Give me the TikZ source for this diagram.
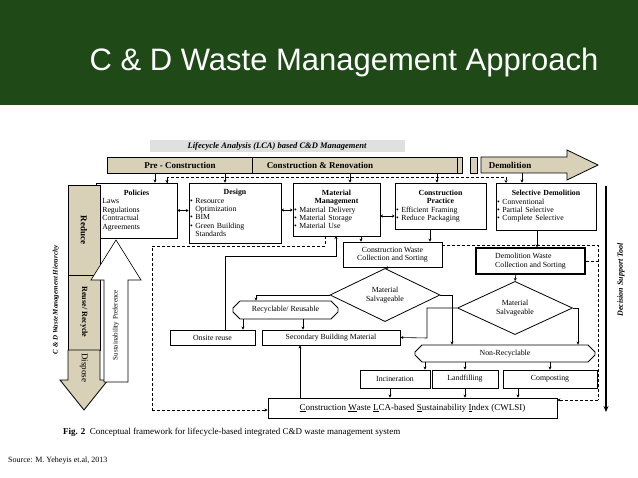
\documentclass[tikz,border=0pt]{standalone}
\usepackage{fontspec}
\setmainfont{Liberation Serif}
\newfontfamily\sansf{Liberation Sans}
\usetikzlibrary{shapes.geometric,shapes.misc,arrows.meta}
\definecolor{hdr}{HTML}{1F4A17}
\definecolor{tan}{HTML}{D8D1B8}
\newcommand{\hd}[1]{\makebox[\linewidth][c]{\textbf{#1}}\\}
\begin{document}
\begin{tikzpicture}[x=1pt,y=-1pt,
  every node/.style={font=\fontsize{7.8}{8.4}\selectfont,inner sep=1pt},
  box/.style={draw,thick,fill=white,align=center},
  bl/.style={box,align=left},
  ch/.style={chamfered rectangle,chamfered rectangle xsep=4pt,draw,thick,fill=white},
  dia/.style={diamond,draw,thick,fill=white,align=center,inner sep=0pt},
  ar/.style={-{Stealth[length=3pt,width=3pt]},semithick},
  da/.style={semithick,densely dashed},
  dar/.style={da,-{Stealth[length=3pt,width=3pt]}},
  lr/.style={{Stealth[length=2.5pt,width=3pt]}-{Stealth[length=2.5pt,width=3pt]},semithick}]
\useasboundingbox (0,0) rectangle (638,478);
\fill[hdr] (0,0) rectangle (638,105);
\node[font=\sansf\fontsize{31}{34}\selectfont,text=white] (title) at (344,62) {C \& D Waste Management Approach};
% LCA header
\node[fill=black!12,minimum width=255,minimum height=12,font=\bfseries\itshape\fontsize{8.5}{9}\selectfont] (lca) at (277,146) {Lifecycle Analysis (LCA) based C\&D Management};
% phase bar
\draw[fill=tan,thick] (107,157) rectangle (252,173);
\draw[fill=tan,thick] (252,157) rectangle (457,173);
\draw[fill=tan,thick] (457,157) rectangle (462,173);
\draw[fill=tan,thick] (470,157) rectangle (477,173);
\draw[fill=tan,thick] (481,157) -- (567,157) -- (567,150) -- (598,165) -- (567,180) -- (567,173) -- (481,173) -- cycle;
\node[font=\bfseries\fontsize{9}{10}\selectfont] (pre) at (180,165) {Pre - Construction};
\node[font=\bfseries\fontsize{9}{10}\selectfont] (cr) at (320,165) {Construction \& Renovation};
\node[font=\bfseries\fontsize{9}{10}\selectfont] (dem) at (510,165) {Demolition};
% boxes
\node[bl,text width=79,minimum height=55] (pol) at (136.5,210.5) {\hd{Policies}\textbullet\ Laws\\\textbullet\ Regulations\\\textbullet\ Contractual\\\phantom{\textbullet\ }Agreements};
\node[bl,text width=90,minimum height=60] (des) at (235,213) {\hd{Design}\textbullet\ Resource\\\phantom{\textbullet\ }Optimization\\\textbullet\ BIM\\\textbullet\ Green Building\\\phantom{\textbullet\ }Standards};
\node[bl,text width=85,minimum height=53] (mat) at (336.5,209.5) {\hd{Material}\hd{Management}\textbullet\ Material Delivery\\\textbullet\ Material Storage\\\textbullet\ Material Use};
\node[bl,text width=89,minimum height=46] (cp) at (440.5,206) {\hd{Construction}\hd{Practice}\textbullet\ Efficient Framing\\\textbullet\ Reduce Packaging};
\node[bl,text width=98,minimum height=47] (sd) at (546,206.5) {\hd{Selective Demolition}\textbullet\ Conventional\\\textbullet\ Partial Selective\\\textbullet\ Complete Selective};
\node[box,minimum width=99,minimum height=25] (cw) at (392.5,254.5) {Construction Waste\\Collection and Sorting};
\node[box,very thick,align=left,minimum width=109,minimum height=26] (dw) at (530.5,261) {Demolition Waste\\Collection and Sorting};
\node[dia,minimum width=110,minimum height=38] (d1) at (385,295) {Material\\Salvageable};
\node[dia,minimum width=115,minimum height=40] (d2) at (515,308) {Material\\Salvageable};
\node[ch,minimum width=105,minimum height=18] (rec) at (285.5,310) {Recyclable/ Reusable};
\node[box,minimum width=85,minimum height=15] (on) at (212.5,337.5) {Onsite reuse};
\node[box,minimum width=138,minimum height=15] (sbm) at (331,337.5) {Secondary Building Material};
\node[ch,minimum width=180,minimum height=17] (nr) at (505,353.5) {Non-Recyclable};
\node[box,minimum width=70,minimum height=18] (inc) at (395,379) {Incineration};
\node[box,minimum width=66,minimum height=18] (lan) at (465,379) {Landfilling};
\node[box,minimum width=94,minimum height=18] (com) at (550,379) {Composting};
\node[box,minimum width=289,minimum height=20,font=\fontsize{9}{10}\selectfont] (cwl) at (412.5,408) {\underline{C}onstruction \underline{W}aste \underline{L}CA-based \underline{S}ustainability \underline{I}ndex (CWLSI)};
% bar to boxes
\draw[ar] (155,173) -- (155,0 |- pol.north);
\draw[ar] (225,173) -- (225,0 |- des.north);
\draw[ar] (350,173) -- (350,0 |- mat.north);
\draw[ar] (437,173) -- (437,0 |- cp.north);
\draw[ar] (522,173) -- (522,0 |- sd.north);
\draw[da] (167,183) -- (167,177) -- (506,177);
\draw[dar] (506,177) -- (506,183);
\draw[dar] (167,178) -- (167,183);
% horizontal links
\draw[lr] (pol.east) -- (des.west |- pol.east);
\draw[lr] (des.east |- 210,210) -- (mat.west |- 210,210);
\draw[lr] (mat.east |- 216,216) -- (cp.west |- 216,216);
% down flows
\draw[ar] (361,236) -- (361,0 |- cw.north);
\draw[ar] (430,229) -- (430,0 |- cw.north);
\draw[ar] (537,230) -- (537,0 |- dw.north);
\draw[ar] (cw.south) -- (d1.north);
\draw[ar] (516,274) -- (d2.north);
\draw[ar] (d1.west) -- (256,295) -- (256,0 |- rec.north);
\draw[ar] (d1.east) -- (452,295) -- (452,0 |- nr.north);
\draw[ar] (d2.west) -- (427,308) -- (427,338) -- (sbm.east);
\draw[ar] (d2.east) -- (578,308) -- (578,0 |- nr.north);
\draw[ar] (243,319) -- (243,0 |- on.north);
\draw[ar] (303,319) -- (303,0 |- sbm.north);
\draw[ar] (225,330) -- (225,256) -- (336,256) -- (336,236);
\draw[ar] (300,0 |- cwl.north) -- (300,0 |- sbm.south);
\draw[ar] (425,362) -- (425,0 |- inc.north);
\draw[ar] (465,362) -- (465,0 |- lan.north);
\draw[ar] (550,362) -- (550,0 |- com.north);
\draw[ar] (390,388) -- (390,0 |- cwl.north);
\draw[ar] (465,388) -- (465,0 |- cwl.north);
\draw[ar] (518,388) -- (518,0 |- cwl.north);
% dashed feedback
\draw[da] (325,236) -- (325,246) -- (152,246) -- (152,410);
\draw[dar] (152,410) -- (cwl.west |- 152,410);
\draw[da] (cw.east |- 245,245) -- (598,245) -- (598,400);
\draw[dar] (598,400) -- (cwl.east |- 598,400);
\draw[da] (dw.east) -- (598,261);
% decision support
\draw[line width=1.6pt,-{Stealth[length=6pt,width=5pt]}] (606,186) -- (606,412);
\node[rotate=90,font=\bfseries\itshape\fontsize{8}{9}\selectfont] (dst) at (621,280) {Decision Support Tool};
% hierarchy arrow
\draw[fill=tan,thick] (68,185) rectangle (100,275);
\draw[fill=tan,thick] (68,275) rectangle (100,350);
\draw[fill=tan,thick] (68,350) -- (100,350) -- (100,380) -- (108,380) -- (84,410) -- (60,380) -- (68,380) -- cycle;
\node[rotate=-90,font=\bfseries\fontsize{9}{10}\selectfont] (red) at (84,230) {Reduce};
\node[rotate=-90,font=\bfseries\fontsize{8}{9}\selectfont] (reu) at (84,312) {Reuse/ Recycle};
\node[rotate=-90,font=\fontsize{9}{10}\selectfont] (dis) at (84,368) {Dispose};
\node[rotate=90,font=\bfseries\itshape\fontsize{7}{8}\selectfont] (hier) at (56,300) {C \& D Waste Management Hierarchy};
% sustainability arrow
\draw[fill=white,semithick] (104,382) -- (128,382) -- (128,280) -- (141,280) -- (116,240) -- (91,280) -- (104,280) -- cycle;
\node[rotate=90,font=\fontsize{7}{8}\selectfont] (sp) at (116,325) {Sustainability Preference};
% caption
\node[anchor=west,font=\fontsize{9}{10}\selectfont] (cap) at (62,432) {\textbf{Fig. 2}\ \ Conceptual framework for lifecycle-based integrated C\&D waste management system};
\node[anchor=west,font=\fontsize{8}{9}\selectfont] (src) at (7,461) {Source: M. Yeheyis et.al, 2013};
\end{tikzpicture}
\end{document}
